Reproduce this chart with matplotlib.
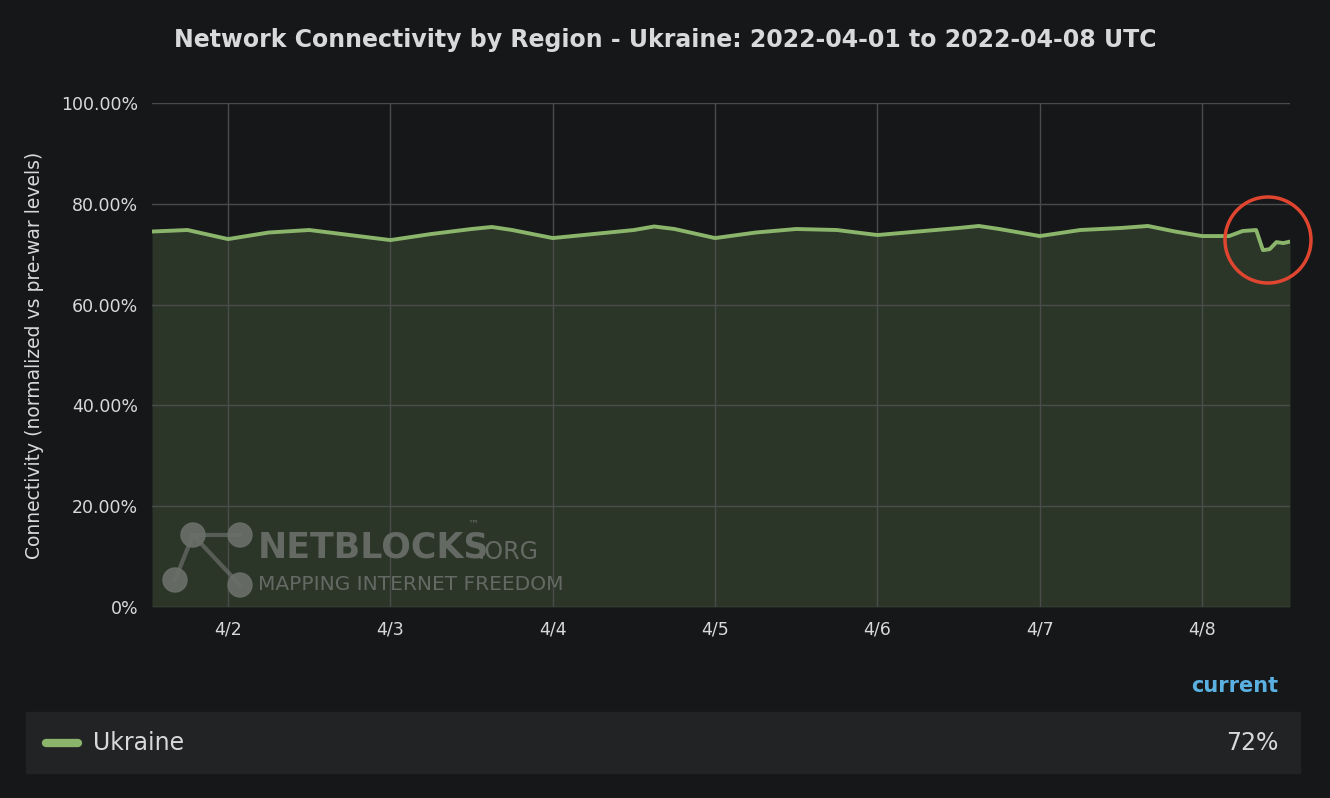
import matplotlib
matplotlib.use("Agg")
import matplotlib.pyplot as plt
import matplotlib.patches as mpatches
import matplotlib.ticker as mticker
import pandas as pd

times = ["2022-04-01 12:45","2022-04-01 18:00","2022-04-02 00:00","2022-04-02 06:00","2022-04-02 12:00",
         "2022-04-02 18:00","2022-04-03 00:00","2022-04-03 06:00","2022-04-03 12:00","2022-04-03 15:00",
         "2022-04-03 18:00","2022-04-04 00:00","2022-04-04 06:00","2022-04-04 12:00","2022-04-04 15:00",
         "2022-04-04 18:00","2022-04-05 00:00","2022-04-05 06:00","2022-04-05 12:00","2022-04-05 18:00",
         "2022-04-06 00:00","2022-04-06 06:00","2022-04-06 12:00","2022-04-06 15:00","2022-04-06 18:00",
         "2022-04-07 00:00","2022-04-07 06:00","2022-04-07 12:00","2022-04-07 16:00","2022-04-07 20:00",
         "2022-04-08 00:00","2022-04-08 04:00","2022-04-08 06:00","2022-04-08 08:00","2022-04-08 09:00",
         "2022-04-08 10:00","2022-04-08 11:00","2022-04-08 12:00","2022-04-08 13:00"]
values = [74.5,74.8,73.0,74.3,74.8,73.8,72.8,74.0,75.0,75.4,74.8,73.2,74.0,74.8,75.5,75.0,73.2,74.3,75.0,74.8,
          73.8,74.5,75.2,75.6,75.0,73.6,74.8,75.2,75.6,74.5,73.6,73.6,74.6,74.8,70.8,71.0,72.4,72.2,72.5]
series_name = "Ukraine"
current_label = "72%"
xtick_labels = ["4/2","4/3","4/4","4/5","4/6","4/7","4/8"]

BG = "#161719"
LINE = "#8ab56b"
TXT = "#d8d9da"
t = pd.to_datetime(times)

fig = plt.figure(figsize=(13.3, 7.98), dpi=100, facecolor=BG)
ax = fig.add_axes([152/1330, 1-607/798, (1290-152)/1330, (607-103)/798], facecolor=BG)
ax.fill_between(t, values, 0, color="#2b3629", lw=0)
ax.plot(t, values, color=LINE, lw=2.8)
ax.set_ylim(0, 100)
ax.set_xlim(pd.Timestamp("2022-04-01 12:45"), pd.Timestamp("2022-04-08 13:00"))
ax.yaxis.set_major_locator(mticker.MultipleLocator(20))
ax.yaxis.set_major_formatter(mticker.FuncFormatter(lambda v, p: "0%" if v == 0 else f"{v:.2f}%"))
ticks = pd.to_datetime([f"2022-04-0{d}" for d in range(2, 9)])
ax.set_xticks(ticks)
ax.set_xticklabels(xtick_labels)
ax.grid(True, color="#4a4c4c", lw=1)
for s in ax.spines.values():
    s.set_visible(False)
ax.tick_params(colors=TXT, labelsize=12.5, length=0, pad=10)
ax.set_ylabel("Connectivity (normalized vs pre-war levels)", color=TXT, fontsize=13.5, labelpad=12)
fig.text(0.5, 1-40/798, "Network Connectivity by Region - Ukraine: 2022-04-01 to 2022-04-08 UTC",
         ha="center", va="center", color=TXT, fontsize=17, fontweight="bold")

# watermark
wm = "#6b6f6a"
fig.lines.append(plt.Line2D([193/1330, 240/1330], [1-535/798, 1-585/798], color=wm, lw=3, alpha=0.7, transform=fig.transFigure))
fig.lines.append(plt.Line2D([193/1330, 175/1330], [1-535/798, 1-580/798], color=wm, lw=3, alpha=0.7, transform=fig.transFigure))
fig.lines.append(plt.Line2D([193/1330, 240/1330], [1-535/798, 1-535/798], color=wm, lw=3, alpha=0.7, transform=fig.transFigure))
for (x, y) in [(193, 535), (240, 535), (175, 580), (240, 585)]:
    fig.patches.append(mpatches.Circle((x, 798-y), 12, transform=None, color=wm, alpha=0.9))
fig.text(258/1330, 1-548/798, "NETBLOCKS", color=wm, fontsize=25, fontweight="bold", va="center", alpha=0.9)
fig.text(467/1330, 1-525/798, "™", color=wm, fontsize=8, va="center", alpha=0.9)
fig.text(478/1330, 1-552/798, ".ORG", color=wm, fontsize=17, va="center", alpha=0.9)
fig.text(258/1330, 1-585/798, "MAPPING INTERNET FREEDOM", color=wm, fontsize=14.5, va="center", alpha=0.9)

# red circle
fig.patches.append(mpatches.Circle((1268, 798-240), 43, transform=None, fill=False, ec="#e0452f", lw=2.5))

# legend
fig.text(1278/1330, 1-686/798, "current", color="#5ab0e0", fontsize=15, fontweight="bold", ha="right", va="center")
fig.patches.append(mpatches.Rectangle((26/1330, 1-773/798), (1300-26)/1330, 61/798, transform=fig.transFigure, color="#222325"))
fig.lines.append(plt.Line2D([46/1330, 78/1330], [1-743/798]*2, color=LINE, lw=6, solid_capstyle="round", transform=fig.transFigure))
fig.text(93/1330, 1-743/798, series_name, color=TXT, fontsize=17, va="center")
fig.text(1278/1330, 1-743/798, current_label, color=TXT, fontsize=17, va="center", ha="right")

fig.savefig("out.png", dpi=100, facecolor=BG)
